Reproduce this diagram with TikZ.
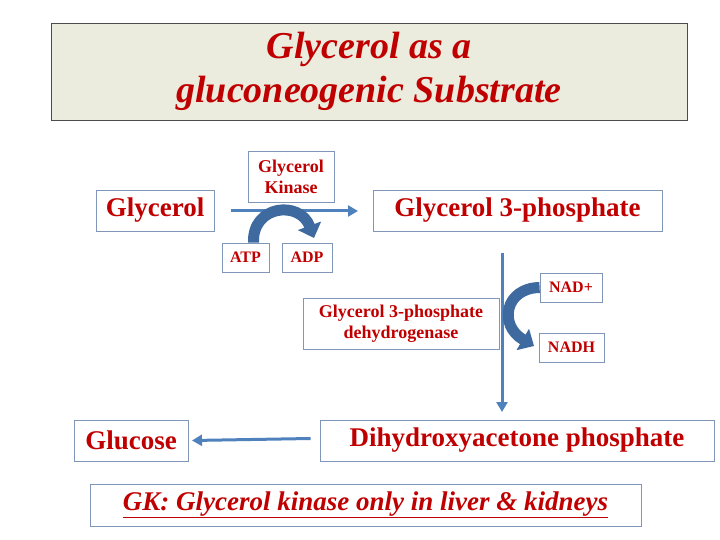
\documentclass[tikz,border=0pt]{standalone}
\usepackage{fontspec}
\setmainfont{Liberation Serif}
\usetikzlibrary{arrows.meta}
\definecolor{tred}{RGB}{192,0,0}
\definecolor{ablue}{RGB}{79,129,189}
\definecolor{dblue}{RGB}{62,106,160}
\definecolor{bbox}{RGB}{128,150,185}
\definecolor{beige}{RGB}{236,236,222}
\begin{document}
\begin{tikzpicture}[x=1pt,y=-1pt,
  bx/.style={draw=bbox,line width=0.8pt,text=tred,font=\bfseries,inner sep=0pt,align=center},
  big/.style={font=\bfseries\fontsize{27}{30}\selectfont},
  small/.style={font=\bfseries\fontsize{18}{21}\selectfont},
  tiny/.style={font=\bfseries\fontsize{16}{18}\selectfont},
  thin/.style={draw=ablue,line width=3pt,-{Triangle[length=10pt,width=11pt]}},
  thick/.style={draw=dblue,line width=11pt,-{Triangle[length=13pt,width=24pt]}}]
\useasboundingbox (0,0) rectangle (720,540);
\node[bx,draw=black!70,fill=beige,minimum width=636,minimum height=97,font=\bfseries\itshape\fontsize{38}{44}\selectfont] (title) at (369,71.5) {Glycerol as a\\gluconeogenic Substrate};
\node[bx,big,minimum width=118,minimum height=41] (gly) at (155,210.5) {Glycerol};
\node[bx,small,minimum width=86,minimum height=51] (gk) at (291,176.5) {Glycerol\\Kinase};
\node[bx,big,minimum width=289,minimum height=41] (g3p) at (517.5,210.5) {Glycerol 3-phosphate};
\node[bx,tiny,minimum width=47,minimum height=29] (atp) at (245.5,257.5) {ATP};
\node[bx,tiny,minimum width=50,minimum height=29] (adp) at (307,257.5) {ADP};
\node[bx,tiny,minimum width=62,minimum height=29] (nad) at (571,287.5) {NAD+};
\node[bx,tiny,minimum width=65,minimum height=29] (nadh) at (571.5,347.5) {NADH};
\node[bx,small,minimum width=196,minimum height=51] (gpd) at (401,323.5) {Glycerol 3-phosphate\\dehydrogenase};
\node[bx,big,minimum width=114,minimum height=41] (glc) at (131,440.5) {Glucose};
\node[bx,big,minimum width=394,minimum height=41] (dhap) at (517,440.5) {Dihydroxyacetone phosphate};
\node[bx,minimum width=551,minimum height=42,font=\bfseries\itshape\fontsize{27}{30}\selectfont] (gkn) at (365.5,505) {\underline{GK: Glycerol kinase only in liver \& kidneys}};
\coordinate (a1) at (231,211);
\coordinate (a2) at (358,211);
\draw[thin] (a1) -- (a2);
\coordinate (v1) at (502,253);
\coordinate (v2) at (502,412);
\draw[thin] (v1) -- (v2);
\draw[thin] (dhap.west)++(-9,-2) coordinate (d1) -- (glc.east -| 192,443);
\draw[thick] (atp.north)++(8,0) .. controls (252,205) and (300,200) .. (314,238);
\draw[thick] (nad.west) .. controls (505,288) and (498,325) .. (534,346);
\end{tikzpicture}
\end{document}
